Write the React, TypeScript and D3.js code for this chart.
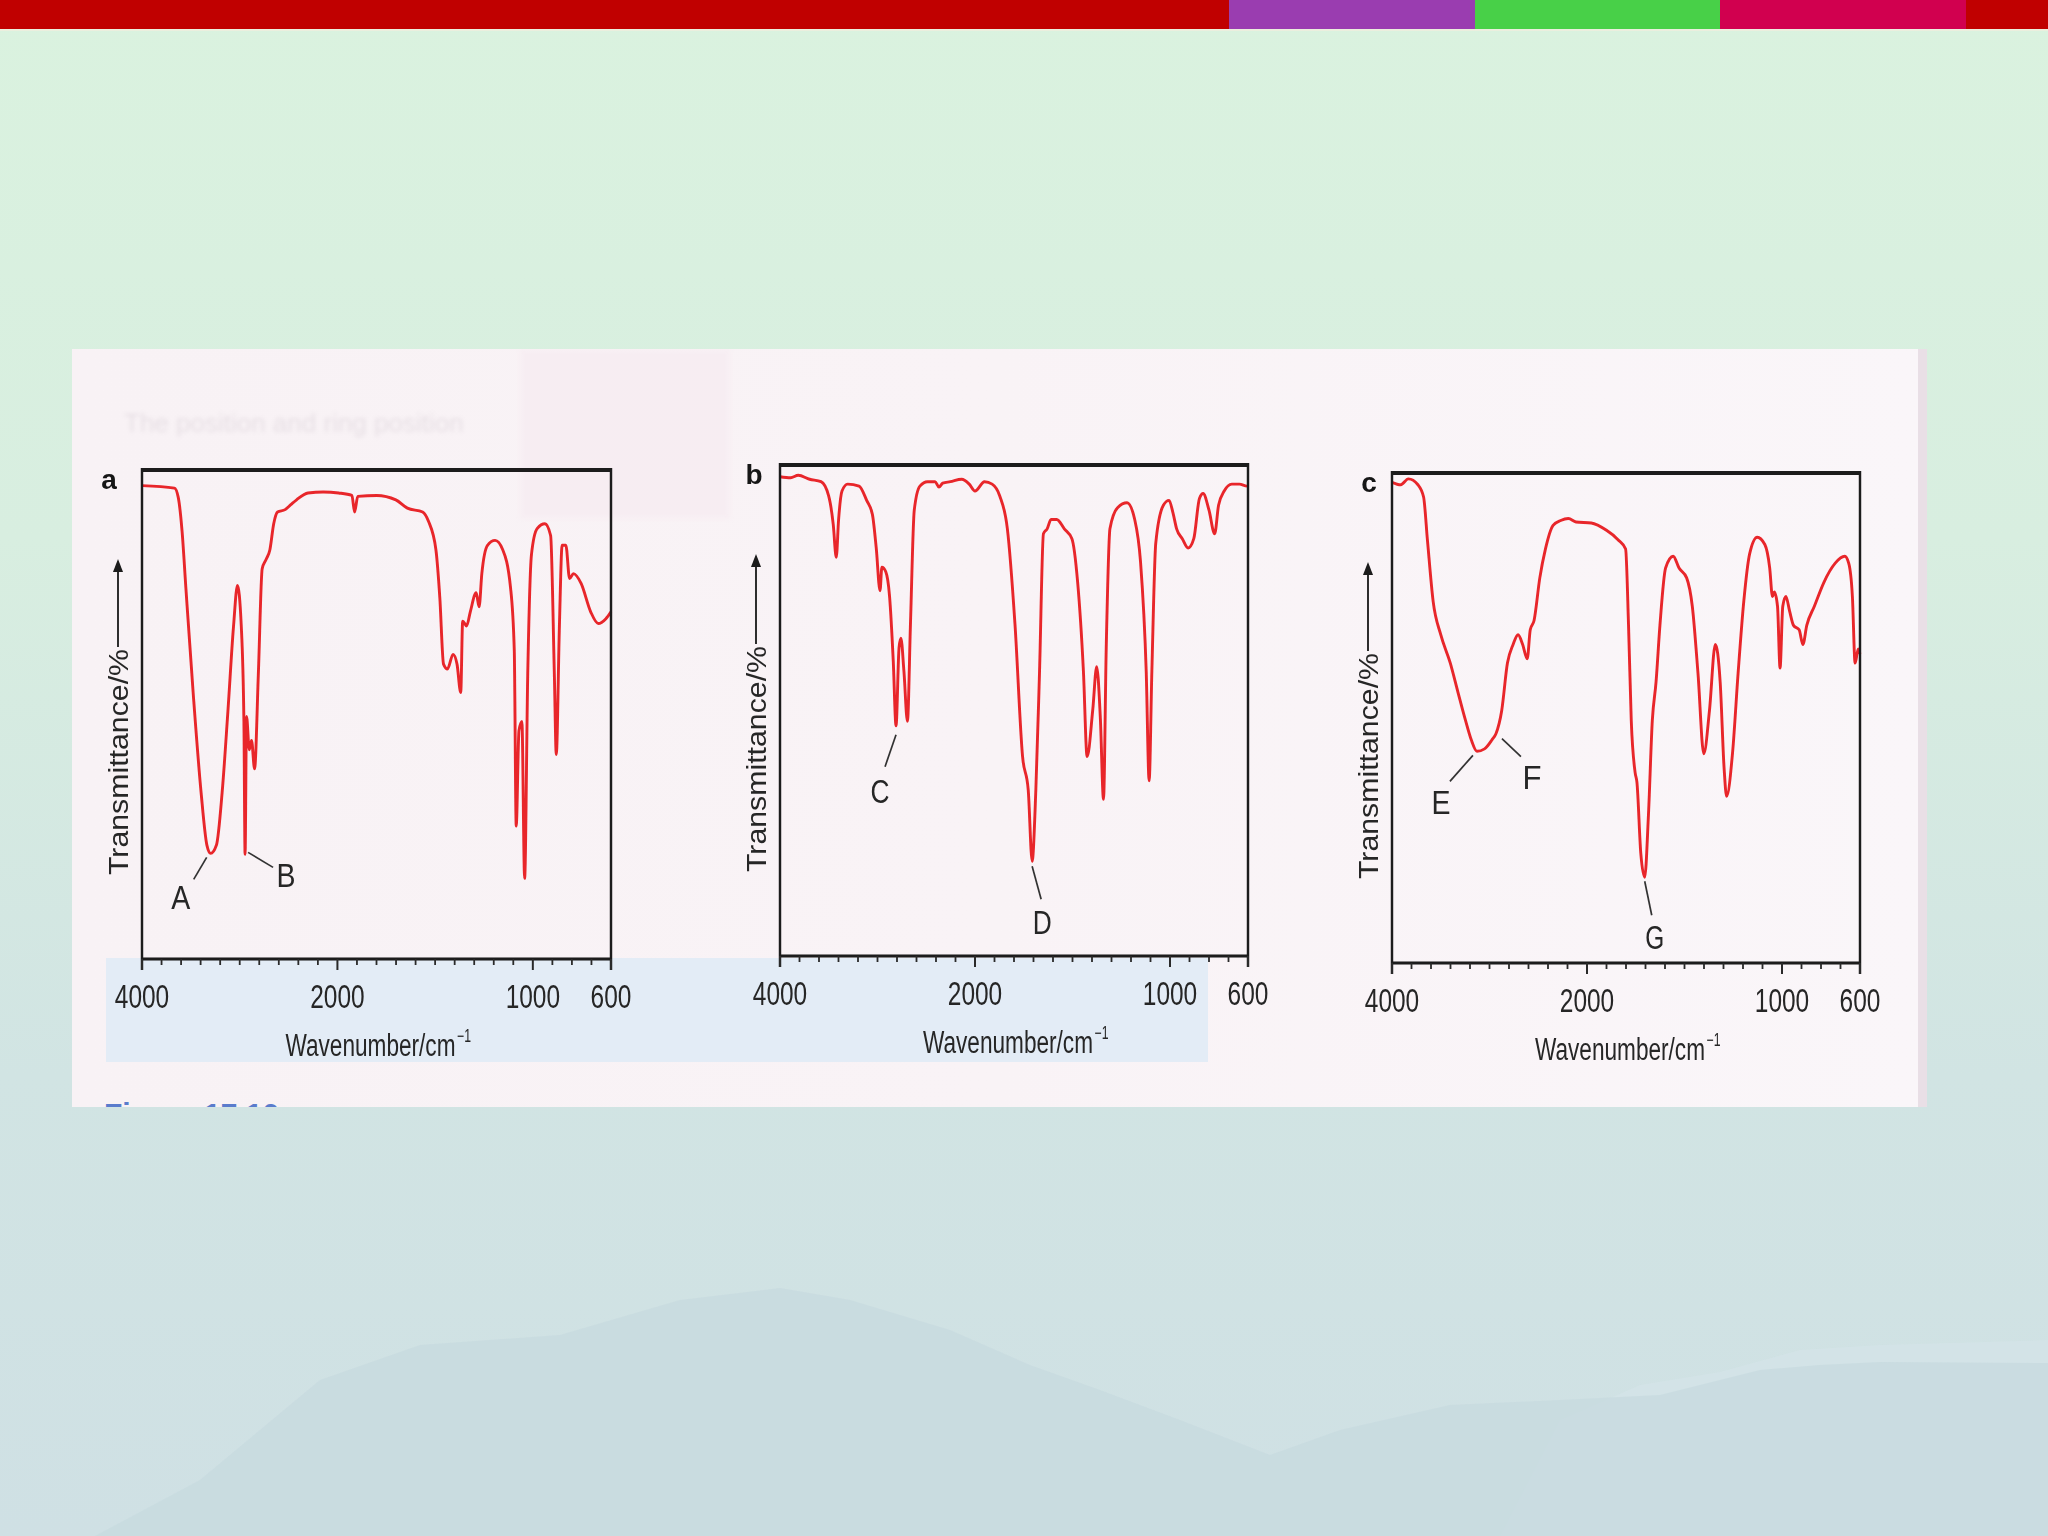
import React from 'react';
import * as d3 from 'd3';

// ---------- DATA ----------
const wavenumberA = [4000, 3668, 3629, 3590, 3551, 3473, 3395, 3336, 3297, 3238, 3180, 3121, 3063, 3023, 2984, 2957, 2945, 2930, 2902, 2879, 2848, 2809, 2770, 2730, 2691, 2652, 2613, 2535, 2477, 2418, 2301, 2145, 1994, 1926, 1912, 1896, 1799, 1701, 1642, 1564, 1534, 1496, 1476, 1457, 1437, 1408, 1388, 1369, 1359, 1339, 1320, 1290, 1275, 1261, 1232, 1193, 1154, 1114, 1095, 1085, 1071, 1056, 1042, 1026, 1007, 978, 938, 909, 890, 880, 864, 850, 831, 812, 792, 753, 704, 665, 626, 600];
const transmittanceA = [96.8, 96.3, 94.4, 87.5, 75.9, 53.5, 34.0, 23.3, 21.6, 23.3, 34.0, 50.6, 68.1, 76.4, 68.1, 48.6, 21.4, 49.6, 42.8, 44.7, 38.9, 58.4, 79.8, 81.7, 83.7, 89.0, 91.4, 91.9, 92.9, 93.9, 95.3, 95.5, 95.3, 94.8, 91.4, 94.6, 94.8, 93.9, 92.2, 91.4, 89.5, 83.7, 73.9, 60.3, 59.3, 62.3, 60.3, 54.5, 69.1, 68.1, 71.0, 74.9, 72.0, 78.8, 84.6, 85.6, 83.7, 75.9, 63.2, 27.2, 46.7, 48.6, 16.5, 58.4, 82.7, 88.0, 89.0, 86.6, 58.4, 41.8, 68.1, 84.6, 84.6, 77.8, 78.8, 76.8, 71.0, 68.6, 69.6, 71.0];

const wavenumberB = [4000, 3891, 3813, 3696, 3579, 3501, 3454, 3423, 3399, 3364, 3306, 3189, 3111, 3052, 3013, 2974, 2955, 2916, 2877, 2838, 2810, 2779, 2760, 2729, 2693, 2662, 2623, 2565, 2487, 2409, 2370, 2331, 2253, 2136, 2059, 2000, 1951, 1912, 1873, 1834, 1795, 1756, 1727, 1707, 1688, 1669, 1649, 1630, 1610, 1581, 1542, 1503, 1474, 1444, 1425, 1396, 1376, 1357, 1341, 1327, 1308, 1269, 1220, 1181, 1151, 1122, 1107, 1093, 1073, 1034, 1005, 985, 966, 937, 907, 878, 849, 830, 800, 771, 751, 722, 683, 644, 605, 600];
const transmittanceB = [97.6, 97.4, 97.9, 97.1, 96.6, 93.7, 87.9, 81.2, 88.9, 94.7, 96.1, 95.7, 92.8, 89.9, 83.1, 74.4, 79.2, 78.3, 73.4, 59.9, 46.9, 62.8, 64.7, 58.0, 47.8, 67.6, 90.8, 95.7, 96.6, 96.6, 95.5, 96.3, 96.6, 97.1, 96.1, 94.7, 96.6, 96.1, 93.7, 87.0, 67.6, 40.6, 33.8, 19.3, 33.8, 58.0, 86.0, 87.0, 88.9, 88.9, 87.0, 85.0, 76.3, 58.0, 40.6, 50.2, 58.9, 48.3, 31.9, 62.8, 87.0, 91.3, 92.3, 88.9, 80.2, 58.0, 35.7, 58.0, 84.1, 91.8, 92.8, 90.3, 87.0, 85.0, 83.1, 85.0, 93.2, 94.2, 90.8, 86.0, 91.8, 94.7, 96.1, 96.1, 95.7, 95.7];

const wavenumberC = [4000, 3910, 3832, 3734, 3676, 3637, 3578, 3500, 3402, 3324, 3246, 3188, 3129, 3051, 2973, 2934, 2875, 2816, 2758, 2707, 2660, 2613, 2582, 2543, 2484, 2426, 2348, 2270, 2191, 2113, 1978, 1900, 1841, 1802, 1787, 1773, 1753, 1744, 1724, 1704, 1685, 1665, 1646, 1626, 1597, 1558, 1528, 1489, 1460, 1431, 1401, 1372, 1342, 1317, 1297, 1284, 1254, 1225, 1196, 1166, 1127, 1088, 1063, 1049, 1039, 1023, 1010, 996, 980, 961, 941, 912, 893, 873, 834, 785, 727, 678, 658, 639, 625, 609, 600];
const transmittanceC = [98.1, 97.6, 98.8, 97.6, 95.1, 86.4, 73.8, 67.0, 61.2, 55.3, 49.5, 45.6, 43.2, 43.7, 45.6, 46.8, 51.5, 61.2, 65.0, 67.0, 65.0, 62.1, 68.0, 69.9, 78.6, 84.5, 89.3, 90.3, 90.7, 90.0, 89.8, 88.3, 86.4, 84.5, 68.9, 49.5, 38.8, 36.9, 22.3, 17.5, 30.1, 49.5, 57.3, 68.9, 80.6, 83.0, 80.6, 78.6, 72.8, 59.2, 42.7, 51.5, 65.0, 57.3, 39.8, 34.0, 42.7, 59.2, 73.8, 83.5, 86.9, 85.4, 80.6, 74.8, 75.7, 72.8, 60.2, 72.8, 74.8, 71.8, 68.9, 68.0, 65.0, 68.9, 72.8, 77.7, 81.6, 83.0, 81.6, 74.8, 61.2, 64.1, 63.1];

const majorTicks = [4000, 2000, 1000, 600];
const minorTicks = [3800, 3600, 3400, 3200, 3000, 2800, 2600, 2400, 2200, 1900, 1800, 1700, 1600, 1500, 1400, 1300, 1200, 1100, 900, 800, 700];
const panelLetters = ['a', 'b', 'c'];
const peakLabelsA = ['A', 'B'];
const peakWavenumbersA = [3297, 2945];
const peakLabelsB = ['C', 'D'];
const peakWavenumbersB = [2810, 1707];
const peakLabelsC = ['E', 'F', 'G'];
const peakWavenumbersC = [3129, 2934, 1704];

const yTitle = 'Transmittance/%';
const xTitle = 'Wavenumber/cm';
const xTitleSup = '−1';

// ---------- LAYOUT ----------
const W = 2048;
const H = 1536;
const FONT = '"Liberation Sans", Arial, Helvetica, sans-serif';
const RED = '#e8262c';
const INK = '#262626';

// offsets [lineStartDx, lineStartDy, lineEndDx, lineEndDy, textDx, textBaselineDy]
const labelOffsets: Record<string, number[]> = {
  A: [-4, 4, -17, 26, -30, 56],
  B: [3, -2, 28, 13, 41, 33],
  C: [0, 9, -11, 41, -16, 77],
  D: [0, 5, 9, 38, 10, 73],
  E: [-4, 4, -27, 30, -36, 63],
  F: [6, 5, 25, 23, 36, 55],
  G: [0, 4, 7, 38, 10, 72],
};

const panels = [
  { x0: 142, x1: 611, top: 470, bottom: 959, letterDx: -33, wn: wavenumberA, t: transmittanceA, labels: peakLabelsA, peaks: peakWavenumbersA },
  { x0: 780, x1: 1248, top: 465, bottom: 956, letterDx: -26, wn: wavenumberB, t: transmittanceB, labels: peakLabelsB, peaks: peakWavenumbersB },
  { x0: 1392, x1: 1860, top: 473, bottom: 963, letterDx: -23, wn: wavenumberC, t: transmittanceC, labels: peakLabelsC, peaks: peakWavenumbersC },
];

function Panel({ p, letter }: { p: any; letter: string }) {
  const w = p.x1 - p.x0;
  const x = d3.scaleLinear().domain([4000, 2000, 600]).range([p.x0, p.x0 + (w * 1000) / 2400, p.x1]);
  const y = d3.scaleLinear().domain([0, 100]).range([p.bottom, p.top]);
  const pts: [number, number][] = p.wn.map((v: number, i: number) => [v, p.t[i]]);
  const line = d3
    .line<[number, number]>()
    .x((d) => x(d[0]))
    .y((d) => y(d[1]))
    .curve(d3.curveMonotoneX);
  const valueAt = (wn: number) => p.t[p.wn.indexOf(wn)];
  const axisTextY = p.bottom + 49;
  const yLabelStart = p.bottom - 84;
  const arrowTip = p.top + 89;
  const lineLen = yLabelStart - arrowTip;
  const titleW = 170;
  const titleX = (p.x0 + p.x1) / 2 - 6 - titleW / 2;
  return (
    <g>
      {/* spectrum */}
      <path d={line(pts) || ''} fill="none" stroke={RED} strokeWidth={2.9} strokeLinejoin="round" />
      {/* frame */}
      <line x1={p.x0} x2={p.x1} y1={p.top} y2={p.top} stroke="#1b1b1b" strokeWidth={4} />
      <line x1={p.x0} x2={p.x1} y1={p.bottom} y2={p.bottom} stroke="#1b1b1b" strokeWidth={3} />
      <line x1={p.x0} x2={p.x0} y1={p.top - 2} y2={p.bottom + 11} stroke="#1b1b1b" strokeWidth={2.4} />
      <line x1={p.x1} x2={p.x1} y1={p.top - 2} y2={p.bottom + 11} stroke="#1b1b1b" strokeWidth={2.4} />
      {minorTicks.map((v) => (
        <line key={'m' + v} x1={x(v)} x2={x(v)} y1={p.bottom} y2={p.bottom + 6} stroke="#2a2a2a" strokeWidth={1.8} />
      ))}
      {majorTicks.map((v) => (
        <line key={'M' + v} x1={x(v)} x2={x(v)} y1={p.bottom} y2={p.bottom + 11} stroke="#2a2a2a" strokeWidth={2} />
      ))}
      {majorTicks.map((v) => (
        <text
          key={'t' + v}
          x={x(v)}
          y={axisTextY}
          textAnchor="middle"
          fontFamily={FONT}
          fontSize={33}
          fill={INK}
          textLength={String(v).length * 13.6}
          lengthAdjust="spacingAndGlyphs"
        >
          {v}
        </text>
      ))}
      {/* x title */}
      <text x={titleX} y={p.bottom + 97} fontFamily={FONT} fontSize={31} fill={INK} textLength={titleW} lengthAdjust="spacingAndGlyphs">
        {xTitle}
      </text>
      <text x={titleX + titleW + 1.5} y={p.bottom + 83} fontFamily={FONT} fontSize={18} fill={INK} textLength={14} lengthAdjust="spacingAndGlyphs">
        {xTitleSup}
      </text>
      {/* y title with arrow */}
      <g transform={`translate(${p.x0 - 24}, ${yLabelStart}) rotate(-90)`}>
        <text x={0} y={0} dy="0.36em" fontFamily={FONT} fontSize={27} fill={INK} textLength={226} lengthAdjust="spacingAndGlyphs">
          {yTitle}
        </text>
        <line x1={228} x2={lineLen - 8} y1={0} y2={0} stroke="#1b1b1b" strokeWidth={1.8} />
        <polygon points={`${lineLen},0 ${lineLen - 13},-5 ${lineLen - 13},5`} fill="#1b1b1b" />
      </g>
      {/* panel letter */}
      <text x={p.x0 + p.letterDx} y={p.top + 19} textAnchor="middle" fontFamily={FONT} fontWeight="bold" fontSize={28} fill="#151515">
        {letter}
      </text>
      {/* peak labels */}
      {p.labels.map((lab: string, i: number) => {
        const wn = p.peaks[i];
        const ax = x(wn);
        const ay = y(valueAt(wn));
        const o = labelOffsets[lab];
        return (
          <g key={lab}>
            <line x1={ax + o[0]} y1={ay + o[1]} x2={ax + o[2]} y2={ay + o[3]} stroke="#333" strokeWidth={1.7} />
            <text
              x={ax + o[4]}
              y={ay + o[5]}
              textAnchor="middle"
              fontFamily={FONT}
              fontSize={33}
              fill={INK}
              textLength={19}
              lengthAdjust="spacingAndGlyphs"
            >
              {lab}
            </text>
          </g>
        );
      })}
    </g>
  );
}

export default function App() {
  return (
    <svg width={W} height={H} viewBox={`0 0 ${W} ${H}`} style={{ position: 'absolute', left: 0, top: 0, display: 'block' }}>
      <defs>
        <linearGradient id="bg" x1="0" y1="0" x2="0" y2="1">
          <stop offset="0" stopColor="#daf2df" />
          <stop offset="0.35" stopColor="#d8eee0" />
          <stop offset="0.7" stopColor="#d1e4e3" />
          <stop offset="1" stopColor="#cfe0e4" />
        </linearGradient>
        <linearGradient id="page" x1="0" y1="0" x2="1" y2="0">
          <stop offset="0" stopColor="#f8f2f5" />
          <stop offset="0.5" stopColor="#f9f3f6" />
          <stop offset="1" stopColor="#faf6f9" />
        </linearGradient>
        <clipPath id="pageClip">
          <rect x={72} y={349} width={1846} height={758} />
        </clipPath>
        <filter id="soft" x="-5%" y="-5%" width="110%" height="110%">
          <feGaussianBlur stdDeviation="0.45" />
        </filter>
        <filter id="ghost">
          <feGaussianBlur stdDeviation="2" />
        </filter>
      </defs>
      {/* slide background */}
      <rect x={0} y={0} width={W} height={H} fill="url(#bg)" />
      <path
        d="M 1500 1536 L 1560 1420 L 1640 1385 L 1720 1372 L 1800 1350 L 1880 1345 L 2048 1340 L 2048 1536 Z"
        fill="#d3e3e7"
        opacity={0.8}
      />
      <path
        d="M 95 1536 L 200 1480 L 320 1380 L 420 1345 L 560 1335 L 680 1300 L 780 1288 L 850 1300 L 950 1330 L 1030 1365 L 1100 1390 L 1180 1420 L 1270 1455 L 1340 1430 L 1450 1405 L 1560 1400 L 1660 1395 L 1760 1370 L 1820 1365 L 1880 1362 L 2048 1363 L 2048 1536 Z"
        fill="#c8dbdf"
        opacity={0.85}
      />
      {/* top colour bar */}
      <rect x={0} y={0} width={W} height={29} fill="#c00000" />
      <rect x={1229} y={0} width={246} height={29} fill="#9a3db0" />
      <rect x={1475} y={0} width={245} height={29} fill="#48d048" />
      <rect x={1720} y={0} width={246} height={29} fill="#d1004f" />
      <rect x={0} y={29} width={W} height={2} fill="#efeedd" opacity={0.8} />

      {/* scanned page */}
      <rect x={72} y={349} width={1846} height={758} fill="url(#page)" />
      <rect x={1918} y={349} width={9} height={758} fill="#e9dfe6" />
      <g clipPath="url(#pageClip)">
        <rect x={520} y={349} width={210} height={170} fill="#f6e9f0" opacity={0.5} filter="url(#ghost)" />
        <rect x={106} y={958} width={1102} height={104} fill="#e3ecf6" />
        <text x={124} y={432} fontFamily={FONT} fontSize={26} fill="#a89aa8" opacity={0.22} filter="url(#ghost)">
          The position and ring position
        </text>
        <text x={104} y={1124} fontFamily={FONT} fontWeight="bold" fontSize={30} fill="#5a7ccc">
          Figure 17.10  a
        </text>
      </g>

      <g filter="url(#soft)">
        {panels.map((p, i) => (
          <Panel key={i} p={p} letter={panelLetters[i]} />
        ))}
      </g>
    </svg>
  );
}
